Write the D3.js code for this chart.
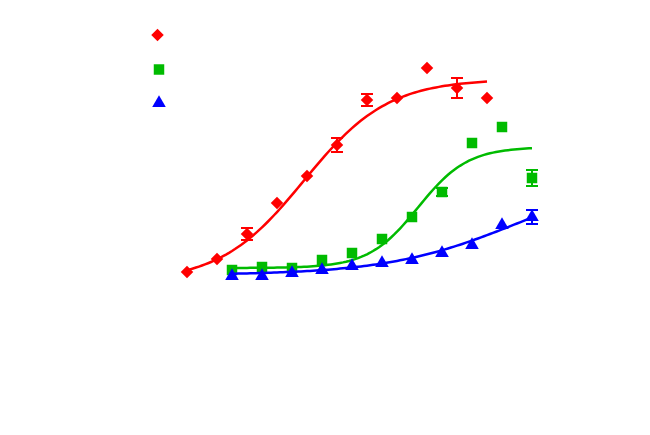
<!DOCTYPE html>
<html><head><meta charset="utf-8">
<script src="https://cdn.jsdelivr.net/npm/d3@7"></script>
<style>html,body{margin:0;padding:0;background:#fff;}</style>
</head><body><svg id="c" width="650" height="435"></svg>
<script>
// log concentration (M)
const redX   = [-9,-8.5,-8,-7.5,-7,-6.5,-6,-5.5,-5,-4.5,-4];
const redY   = [0,6.5,19,34.5,48,63.5,86,87,102,92,87];
const redErr = [0,0,3,0,0,3.5,3,0,0,5,0];
const greenX   = [-8.25,-7.75,-7.25,-6.75,-6.25,-5.75,-5.25,-4.75,-4.25,-3.75,-3.25];
const greenY   = [1,2.5,2,6,9.5,16.5,27.5,40,64.5,72.5,47];
const greenErr = [0,0,0,0,0,0,0,2,0,0,4];
const blueX   = [-8.25,-7.75,-7.25,-6.75,-6.25,-5.75,-5.25,-4.75,-4.25,-3.75,-3.25];
const blueY   = [-2,-2,-0.5,1,3,4.5,6,9.5,13.5,23.5,27.5];
const blueErr = [0,0,0,0,0,0,0,0,0,0,3.5];
// fitted 4-parameter logistic curves: [bottom, top, logEC50, hill]
const redFit   = [-5, 96.5, -7.05, 0.62];
const greenFit = [2, 62.5, -5.15, 1.05];
const blueFit  = [-1.5, 50, -3.5, 0.4];

const svg = d3.select("#c");
const x = d3.scaleLinear().domain([-9,-4]).range([187,487]);
const y = d3.scaleLinear().domain([0,100]).range([272,72]);

const series = [
  {xs:redX, ys:redY, err:redErr, fit:redFit, color:"#ff0000", sym:"diamond", lx:157.5, ly:35},
  {xs:greenX, ys:greenY, err:greenErr, fit:greenFit, color:"#00bb00", sym:"square", lx:159, ly:69.5},
  {xs:blueX, ys:blueY, err:blueErr, fit:blueFit, color:"#0000ff", sym:"triangle", lx:159, ly:103}
];

function symPath(s){
  if(s==="diamond") return d3.symbol(d3.symbolSquare, 78)();
  if(s==="square") return d3.symbol(d3.symbolSquare, 110)();
  return d3.symbol(d3.symbolTriangle, 80)();
}
function logistic(p, v){ return p[0] + (p[1]-p[0])/(1+Math.pow(10,(p[2]-v)*p[3])); }

series.forEach(s=>{
  const x0 = s.xs[0], x1 = s.xs[s.xs.length-1];
  const pts = d3.range(0,101).map(i=>{const v = x0+(x1-x0)*i/100; return [v, logistic(s.fit,v)];});
  svg.append("path").attr("d", d3.line().x(d=>x(d[0])).y(d=>y(d[1]))(pts))
    .attr("fill","none").attr("stroke",s.color).attr("stroke-width",2.5);
  const g = svg.append("g");
  s.xs.forEach((xv,i)=>{
    const cx = x(xv), cy = y(s.ys[i]), e = s.err[i];
    if(e>0){
      const yt = y(s.ys[i]+e), yb = y(s.ys[i]-e);
      g.append("path").attr("d",`M${cx},${yt}V${yb}M${cx-6},${yt}H${cx+6}M${cx-6},${yb}H${cx+6}`)
        .attr("stroke",s.color).attr("stroke-width",2).attr("fill","none");
    }
    g.append("path").attr("d",symPath(s.sym))
      .attr("transform",`translate(${cx},${cy})`+(s.sym==="diamond"?" rotate(45)":""))
      .attr("fill",s.color);
  });
  svg.append("path").attr("d",symPath(s.sym))
    .attr("transform",`translate(${s.lx},${s.ly})`+(s.sym==="diamond"?" rotate(45)":""))
    .attr("fill",s.color);
});
</script></body></html>
